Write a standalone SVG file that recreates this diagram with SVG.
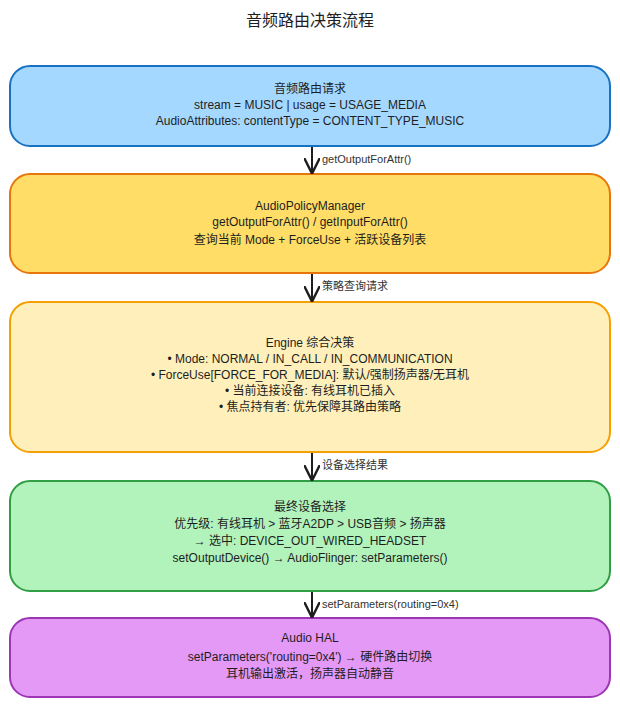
<svg xmlns="http://www.w3.org/2000/svg" width="620" height="708" viewBox="0 0 620 708">
<style>
text{font-family:"Liberation Sans","Noto Sans CJK SC",sans-serif;font-size:12px;fill:#1e1e1e;text-anchor:middle}
.t{font-size:16px}
.l{font-size:11px;text-anchor:start;fill:#333}
.box{stroke-width:2}
.c{stroke:#1e1e1e;stroke-width:2;fill:none}
</style>
<defs><marker id="a" viewBox="0 0 10 10" refX="9" refY="5" markerWidth="8" markerHeight="8" orient="auto"><path d="M0,0L10,5L0,10" fill="none" stroke="#1e1e1e" stroke-width="1.5"/></marker></defs>
<rect width="620" height="708" fill="#fff"/>
<text class="t" x="310" y="26">音频路由决策流程</text>
<g id="n1"><rect class="box" x="10" y="66" width="600" height="80" rx="20" fill="#a5d8ff" stroke="#1971c2"/>
<text x="310" y="93">音频路由请求</text><text x="310" y="109">stream = MUSIC  |  usage = USAGE_MEDIA</text><text x="310" y="125">AudioAttributes: contentType = CONTENT_TYPE_MUSIC</text></g>
<g id="n2"><rect class="box" x="10" y="174" width="600" height="99" rx="20" fill="#ffdd66" stroke="#e8770b"/>
<text x="310" y="210">AudioPolicyManager</text><text x="310" y="226">getOutputForAttr() / getInputForAttr()</text><text x="310" y="244">查询当前 Mode + ForceUse + 活跃设备列表</text></g>
<g id="n3"><rect class="box" x="10" y="302" width="600" height="150" rx="20" fill="#fff0bb" stroke="#f59f00"/>
<text x="310" y="347">Engine 综合决策</text><text x="310" y="363">• Mode: NORMAL / IN_CALL / IN_COMMUNICATION</text><text x="310" y="379">• ForceUse[FORCE_FOR_MEDIA]: 默认/强制扬声器/无耳机</text><text x="310" y="395">• 当前连接设备: 有线耳机已插入</text><text x="310" y="411">• 焦点持有者: 优先保障其路由策略</text></g>
<g id="n4"><rect class="box" x="10" y="481" width="600" height="110" rx="20" fill="#b2f2bb" stroke="#2f9e44"/>
<text x="310" y="511">最终设备选择</text><text x="310" y="528">优先级: 有线耳机 &gt; 蓝牙A2DP &gt; USB音频 &gt; 扬声器</text><text x="310" y="545">→ 选中: DEVICE_OUT_WIRED_HEADSET</text><text x="310" y="562">setOutputDevice() → AudioFlinger: setParameters()</text></g>
<g id="n5"><rect class="box" x="10" y="618" width="600" height="79" rx="20" fill="#e599f7" stroke="#9c36b5"/>
<text x="310" y="642">Audio HAL</text><text x="310" y="661">setParameters('routing=0x4') → 硬件路由切换</text><text x="310" y="678">耳机输出激活，扬声器自动静音</text></g>
<g id="connectors">
<line class="c" x1="312" y1="147" x2="312" y2="172" marker-end="url(#a)"/><text class="l" x="322" y="163">getOutputForAttr()</text>
<line class="c" x1="312" y1="274" x2="312" y2="300" marker-end="url(#a)"/><text class="l" x="322" y="290">策略查询请求</text>
<line class="c" x1="312" y1="453" x2="312" y2="479" marker-end="url(#a)"/><text class="l" x="322" y="469">设备选择结果</text>
<line class="c" x1="312" y1="592" x2="312" y2="616" marker-end="url(#a)"/><text class="l" x="322" y="608">setParameters(routing=0x4)</text>
</g>
</svg>
